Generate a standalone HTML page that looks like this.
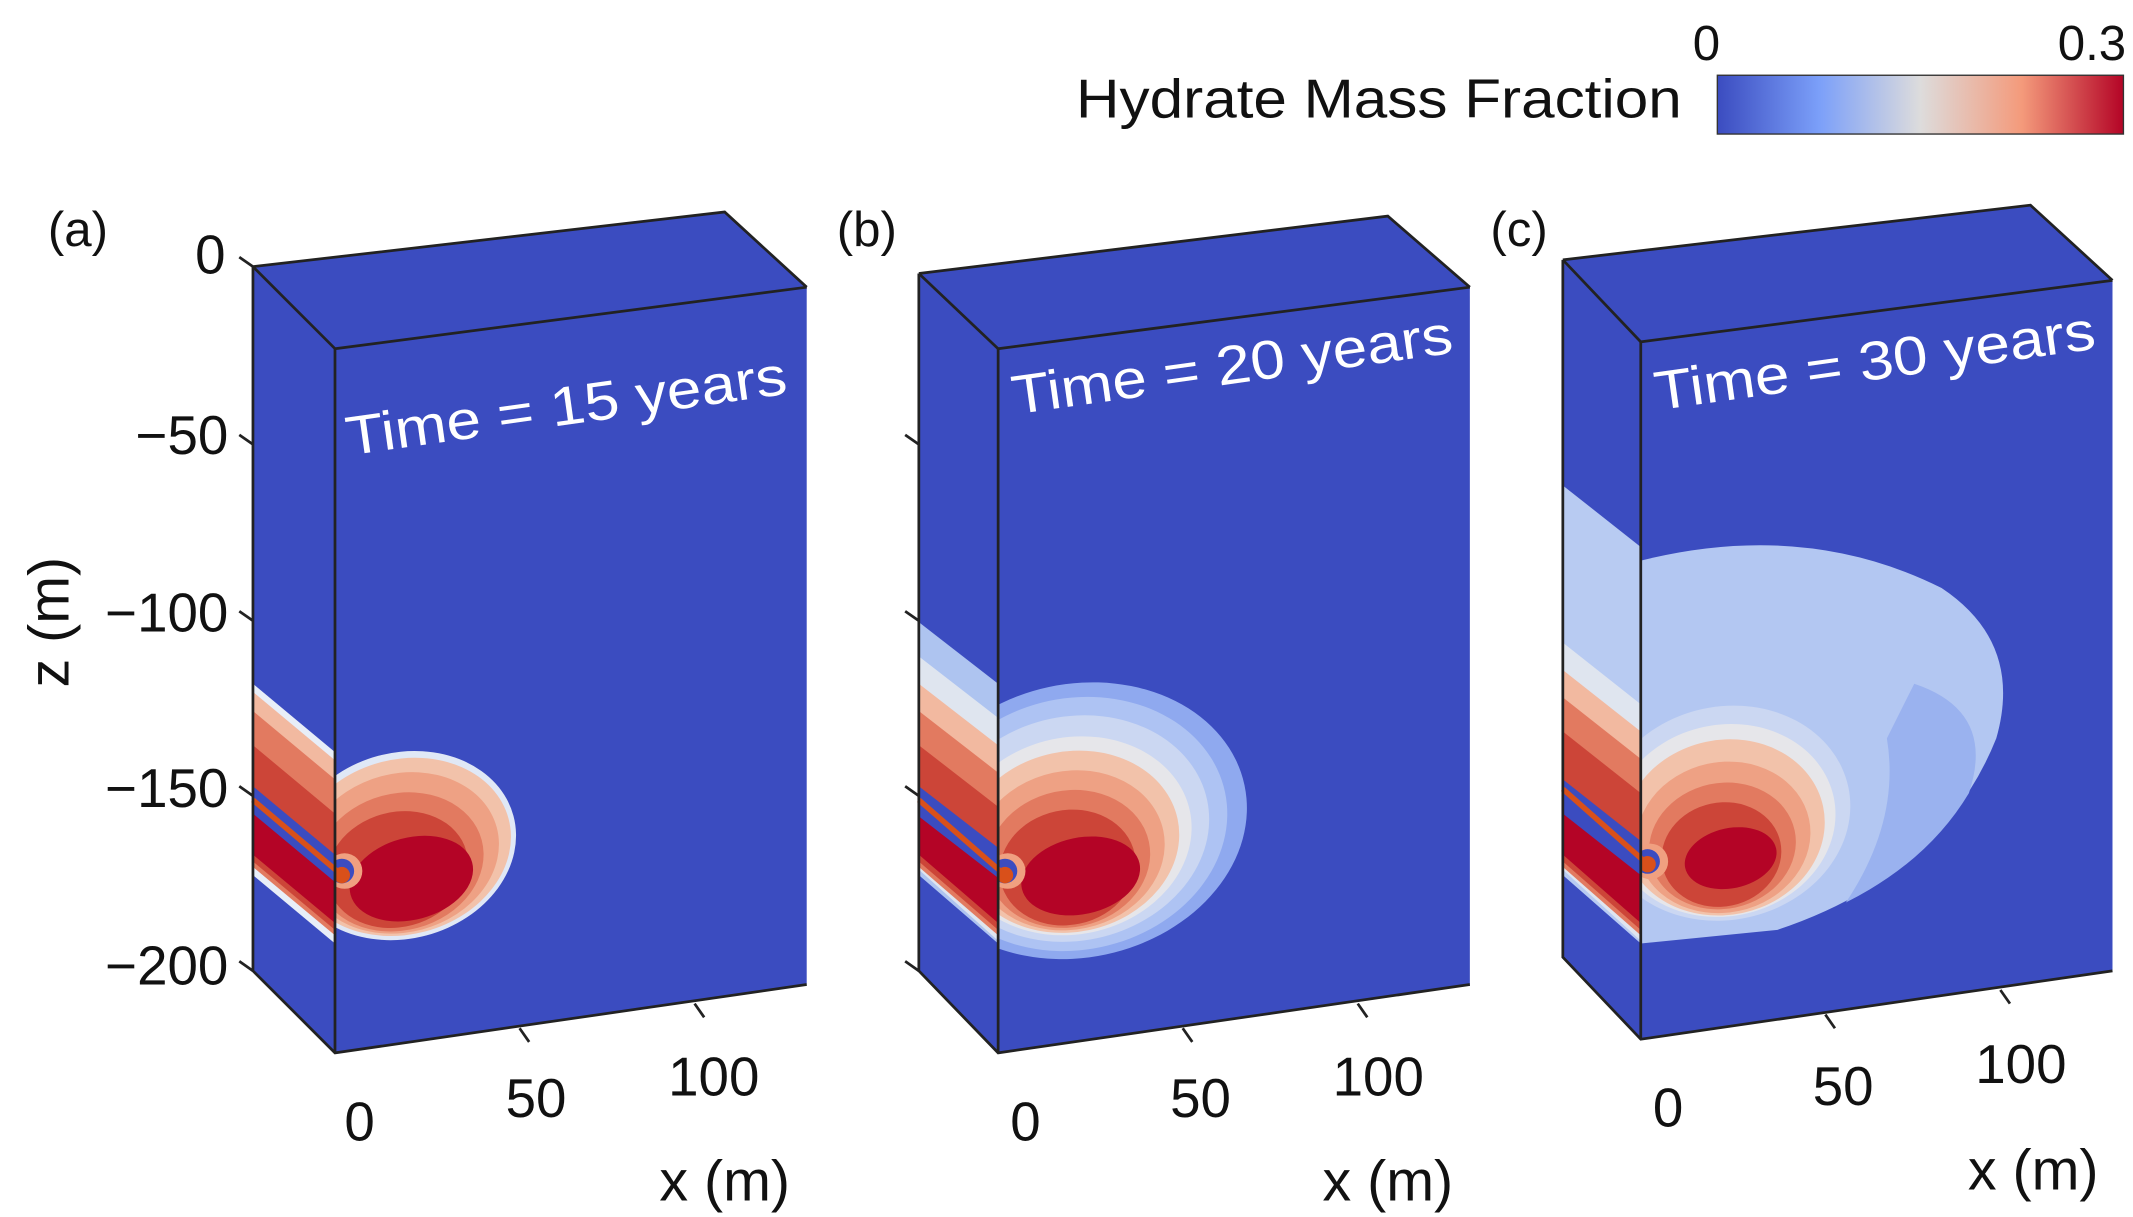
<!DOCTYPE html>
<html><head><meta charset="utf-8"><style>
html,body{margin:0;padding:0;background:#fff;width:2133px;height:1217px;overflow:hidden}
svg{display:block}
text{font-family:"Liberation Sans","DejaVu Sans",sans-serif;fill:#111}
</style></head><body>
<svg width="2133" height="1217" viewBox="0 0 1560 890" xmlns="http://www.w3.org/2000/svg">
<defs>
<linearGradient id="cb" x1="0" x2="1" y1="0" y2="0">
<stop offset="0" stop-color="#3b4cc0"/><stop offset="0.25" stop-color="#7b9ff9"/>
<stop offset="0.5" stop-color="#dddcdc"/><stop offset="0.75" stop-color="#f49a7b"/>
<stop offset="1" stop-color="#b40426"/></linearGradient>
<clipPath id="fa"><polygon points="245,255 590,210 590,720 245,770"/></clipPath>
<clipPath id="sa"><polygon points="185,195 245,255 245,770 185,710"/></clipPath>
<clipPath id="fb"><polygon points="730,255 1075,210 1075,720 730,770"/></clipPath>
<clipPath id="sb"><polygon points="672,200 730,255 730,770 672,710"/></clipPath>
<clipPath id="fc"><polygon points="1200,250 1545,205 1545,710 1200,760"/></clipPath>
<clipPath id="sc"><polygon points="1143,190 1200,250 1200,760 1143,700"/></clipPath>
</defs>

<!-- colorbar -->
<rect x="1256" y="55" width="297" height="43" fill="url(#cb)" stroke="#333" stroke-width="1"/>
<text x="1248" y="44" font-size="36" text-anchor="middle">0</text>
<text x="1555" y="44" font-size="36" text-anchor="end">0.3</text>
<text x="1230" y="86" font-size="40" text-anchor="end" textLength="443" lengthAdjust="spacingAndGlyphs">Hydrate Mass Fraction</text>

<!-- labels -->
<text x="35" y="180" font-size="36">(a)</text>
<text x="612" y="180" font-size="36">(b)</text>
<text x="1090" y="180" font-size="36">(c)</text>

<!-- z axis -->
<g font-size="40" text-anchor="end">
<text x="165" y="200">0</text><text x="167" y="332">−50</text>
<text x="167" y="462">−100</text><text x="167" y="590">−150</text><text x="167" y="720">−200</text>
</g>
<text transform="translate(50,455) rotate(-90)" font-size="42" text-anchor="middle">z (m)</text>
<g stroke="#222" stroke-width="2">
<line x1="175" y1="188" x2="185" y2="195"/><line x1="175" y1="318" x2="185" y2="325"/>
<line x1="175" y1="447" x2="185" y2="454"/><line x1="175" y1="575" x2="185" y2="582"/>
<line x1="175" y1="703" x2="185" y2="710"/>
<line x1="662" y1="318" x2="672" y2="325"/><line x1="662" y1="447" x2="672" y2="454"/>
<line x1="662" y1="575" x2="672" y2="582"/><line x1="662" y1="703" x2="672" y2="710"/>
</g>

<!-- Panel A -->
<g>
<polygon points="185,195 530,155 590,210 245,255" fill="#3b4cc0"/>
<polygon points="185,195 245,255 245,770 185,710" fill="#3b4cc0"/>
<polygon points="245,255 590,210 590,720 245,770" fill="#3b4cc0"/>
<g clip-path="url(#sa)">
<polygon points="185,500 245,550 245,690 185,640" fill="#e8eef8"/>
<polygon points="185,506 245,556 245,684 185,634" fill="#f2b9a0"/>
<polygon points="185,520 245,570 245,684 185,634" fill="#e27a60"/>
<polygon points="185,545 245,595 245,680 185,630" fill="#cc4538"/>
<polygon points="185,582 245,632 245,675 185,625" fill="#b40426"/>
<polygon points="185,575 245,625 245,645 185,595" fill="#3b4cc0"/>
</g>
<g clip-path="url(#fa)">
<g transform="rotate(-15 300 620)">
<ellipse cx="295" cy="617" rx="84" ry="68" fill="#e0e8f6"/>
<ellipse cx="295" cy="618" rx="80" ry="64" fill="#f2c2aa"/>
<ellipse cx="293" cy="622" rx="72" ry="58" fill="#eea184"/>
<ellipse cx="290" cy="628" rx="62" ry="50" fill="#e27a60"/>
<ellipse cx="287" cy="633" rx="52" ry="42" fill="#cc4538"/>
<ellipse cx="295" cy="642" rx="46" ry="30" fill="#b40426"/>
</g>
<circle cx="252" cy="637" r="13" fill="#f0a080"/>
<circle cx="250" cy="637" r="9" fill="#3b4cc0"/>
</g>
<line x1="185" y1="585" x2="250" y2="640" stroke="#d9501a" stroke-width="4"/>
<circle cx="250" cy="640" r="6" fill="#d9501a"/>
<g fill="none" stroke="#222" stroke-width="2">
<polyline points="245,770 245,255 590,210"/><polyline points="185,195 245,255"/>
<polyline points="185,195 530,155 590,210"/><polyline points="185,195 185,710 245,770 590,720"/>
<line x1="380" y1="752" x2="387" y2="762"/><line x1="508" y1="734" x2="515" y2="744"/>
</g>
<g font-size="40" text-anchor="middle"><text x="263" y="834">0</text><text x="392" y="817">50</text><text x="522" y="801">100</text></g>
<text x="530" y="878" font-size="42" text-anchor="middle">x (m)</text>
<text transform="translate(255,333) rotate(-8)" font-size="40" textLength="325" lengthAdjust="spacingAndGlyphs" style="fill:#fff">Time = 15 years</text>
</g>

<!-- Panel B -->
<g>
<polygon points="672,200 1015,158 1075,210 730,255" fill="#3b4cc0"/>
<polygon points="672,200 730,255 730,770 672,710" fill="#3b4cc0"/>
<polygon points="730,255 1075,210 1075,720 730,770" fill="#3b4cc0"/>
<g clip-path="url(#sb)">
<polygon points="672,455 730,500 730,690 672,640" fill="#aec4f0"/>
<polygon points="672,480 730,525 730,688 672,636" fill="#dfe5ef"/>
<polygon points="672,500 730,545 730,684 672,634" fill="#f2b9a0"/>
<polygon points="672,520 730,565 730,684 672,634" fill="#e27a60"/>
<polygon points="672,545 730,590 730,680 672,630" fill="#cc4538"/>
<polygon points="672,582 730,627 730,675 672,625" fill="#b40426"/>
<polygon points="672,575 730,620 730,642 672,597" fill="#3b4cc0"/>
</g>
<g clip-path="url(#fb)">
<g transform="rotate(-12 790 610)">
<ellipse cx="790" cy="600" rx="125" ry="100" fill="#8fa9ef"/>
<ellipse cx="788" cy="602" rx="112" ry="92" fill="#aec3f3"/>
<ellipse cx="786" cy="605" rx="100" ry="82" fill="#cbd7f2"/>
<ellipse cx="784" cy="610" rx="88" ry="72" fill="#e6e6ea"/>
<ellipse cx="782" cy="614" rx="80" ry="66" fill="#f2c2aa"/>
<ellipse cx="780" cy="620" rx="70" ry="58" fill="#eea184"/>
<ellipse cx="778" cy="626" rx="60" ry="50" fill="#e27a60"/>
<ellipse cx="776" cy="632" rx="50" ry="42" fill="#cc4538"/>
<ellipse cx="784" cy="640" rx="44" ry="28" fill="#b40426"/>
</g>
<circle cx="737" cy="637" r="13" fill="#f0a080"/>
<circle cx="735" cy="637" r="9" fill="#3b4cc0"/>
</g>
<line x1="672" y1="585" x2="735" y2="640" stroke="#d9501a" stroke-width="4"/>
<circle cx="735" cy="640" r="6" fill="#d9501a"/>
<g fill="none" stroke="#222" stroke-width="2">
<polyline points="730,770 730,255 1075,210"/><polyline points="672,200 730,255"/>
<polyline points="672,200 1015,158 1075,210"/><polyline points="672,200 672,710 730,770 1075,720"/>
<line x1="865" y1="752" x2="872" y2="762"/><line x1="993" y1="734" x2="1000" y2="744"/>
</g>
<g font-size="40" text-anchor="middle"><text x="750" y="834">0</text><text x="878" y="817">50</text><text x="1008" y="801">100</text></g>
<text x="1015" y="878" font-size="42" text-anchor="middle">x (m)</text>
<text transform="translate(742,303) rotate(-8)" font-size="40" textLength="325" lengthAdjust="spacingAndGlyphs" style="fill:#fff">Time = 20 years</text>
</g>

<!-- Panel C -->
<g>
<polygon points="1143,190 1485,150 1545,205 1200,250" fill="#3b4cc0"/>
<polygon points="1143,190 1200,250 1200,760 1143,700" fill="#3b4cc0"/>
<polygon points="1200,250 1545,205 1545,710 1200,760" fill="#3b4cc0"/>
<g clip-path="url(#sc)">
<polygon points="1143,355 1200,400 1200,690 1143,640" fill="#b8cbf2"/>
<polygon points="1143,470 1200,515 1200,688 1143,636" fill="#dfe5ef"/>
<polygon points="1143,490 1200,535 1200,684 1143,634" fill="#f2b9a0"/>
<polygon points="1143,510 1200,555 1200,684 1143,634" fill="#e27a60"/>
<polygon points="1143,535 1200,580 1200,680 1143,630" fill="#cc4538"/>
<polygon points="1143,578 1200,623 1200,675 1143,625" fill="#b40426"/>
<polygon points="1143,570 1200,615 1200,640 1143,595" fill="#3b4cc0"/>
</g>
<g clip-path="url(#fc)">
<path d="M1200,410 Q1320,380 1420,430 Q1480,470 1460,540 Q1420,640 1300,680 L1200,690 Z" fill="#b3c7f2"/>
<path d="M1400,500 Q1460,520 1440,580 Q1410,630 1350,660 Q1390,600 1380,540 Z" fill="#9ab2ef"/>
<g transform="rotate(-12 1262 610)">
<ellipse cx="1265" cy="595" rx="92" ry="78" fill="#cbd7f2"/>
<ellipse cx="1263" cy="600" rx="82" ry="70" fill="#e6e6ea"/>
<ellipse cx="1262" cy="605" rx="74" ry="64" fill="#f2c2aa"/>
<ellipse cx="1260" cy="612" rx="64" ry="55" fill="#eea184"/>
<ellipse cx="1258" cy="618" rx="54" ry="46" fill="#e27a60"/>
<ellipse cx="1256" cy="624" rx="44" ry="38" fill="#cc4538"/>
<ellipse cx="1262" cy="628" rx="34" ry="22" fill="#b40426"/>
</g>
<circle cx="1207" cy="630" r="13" fill="#f0a080"/>
<circle cx="1205" cy="630" r="9" fill="#3b4cc0"/>
</g>
<line x1="1143" y1="577" x2="1205" y2="632" stroke="#d9501a" stroke-width="4"/>
<circle cx="1205" cy="632" r="6" fill="#d9501a"/>
<g fill="none" stroke="#222" stroke-width="2">
<polyline points="1200,760 1200,250 1545,205"/><polyline points="1143,190 1200,250"/>
<polyline points="1143,190 1485,150 1545,205"/><polyline points="1143,190 1143,700 1200,760 1545,710"/>
<line x1="1335" y1="742" x2="1342" y2="752"/><line x1="1463" y1="724" x2="1470" y2="734"/>
</g>
<g font-size="40" text-anchor="middle"><text x="1220" y="824">0</text><text x="1348" y="808">50</text><text x="1478" y="792">100</text></g>
<text x="1487" y="870" font-size="42" text-anchor="middle">x (m)</text>
<text transform="translate(1212,300) rotate(-8)" font-size="40" textLength="325" lengthAdjust="spacingAndGlyphs" style="fill:#fff">Time = 30 years</text>
</g>
</svg>
</body></html>
